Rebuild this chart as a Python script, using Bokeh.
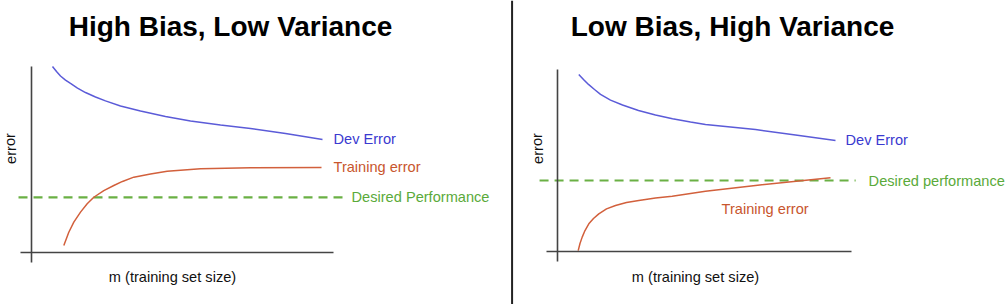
from bokeh.plotting import figure
from bokeh.layouts import row
from bokeh.models import Label, Span, Range1d, FixedTicker
from bokeh.embed import file_html
from bokeh.resources import INLINE

# ---------------- data (m = training set size, error) ----------------
# Left panel: High Bias, Low Variance
hb_dev_m = [6.95, 8.28, 9.60, 11.26, 12.91, 15.23, 17.88, 21.19, 24.50, 29.47, 36.09,
            44.37, 52.65, 62.58, 72.52, 84.11, 96.36]
hb_dev_err = [10.0, 9.73, 9.49, 9.27, 9.09, 8.84, 8.60, 8.36, 8.15, 7.88, 7.61,
              7.31, 7.07, 6.85, 6.67, 6.40, 6.08]
hb_train_m = [10.70, 12.35, 14.01, 16.23, 18.44, 20.63, 23.94, 27.25, 30.13, 33.87, 39.40,
              44.93, 55.96, 72.52, 96.03]
hb_train_err = [0.38, 1.09, 1.63, 2.17, 2.62, 2.97, 3.33, 3.60, 3.82, 4.05, 4.22,
                4.37, 4.50, 4.55, 4.57]
hb_desired_m = [-4.3, 103.0]
hb_desired_err = [2.96, 2.96]

# Right panel: Low Bias, High Variance
lb_dev_m = [7.24, 8.84, 10.54, 12.59, 14.63, 18.03, 22.11, 27.55, 33.33, 39.12, 45.24,
            50.34, 58.84, 67.35, 80.95, 94.56]
lb_dev_err = [9.73, 9.45, 9.18, 8.90, 8.63, 8.32, 8.05, 7.75, 7.50, 7.29, 7.12,
              6.98, 6.84, 6.70, 6.40, 6.10]
lb_train_m = [7.04, 7.65, 8.40, 9.35, 10.65, 12.24, 14.05, 16.67, 19.73, 23.47, 27.65,
              33.33, 39.01, 50.34, 67.35, 92.86]
lb_train_err = [0.05, 0.44, 0.79, 1.15, 1.52, 1.81, 2.07, 2.34, 2.53, 2.69, 2.80,
                2.94, 3.04, 3.31, 3.63, 4.05]
lb_desired_m = [-6.1, 101.4]
lb_desired_err = [3.90, 3.90]

titles = ["High Bias, Low Variance", "Low Bias, High Variance"]
desired_labels = ["Desired Performance", "Desired performance"]
x_label = "m (training set size)"
y_label = "error"

FONT = "Liberation Sans"
DEV_LINE, DEV_TEXT = "#5b5bd8", "#3a3ad0"
TR_LINE, TR_TEXT = "#d2603c", "#c8562e"
GR_LINE, GR_TEXT = "#6ab044", "#5aaa3a"
AX = "#444444"
LBL_SIZE = "14.6px"


def make_panel(width, xr, yr, xb, yb, title, title_x, des_text,
               dev_m, dev_e, tr_m, tr_e, des_m, des_e,
               dev_off, tr_off, des_off, tr_label_pos, xlab_x, ylab_x):
    p = figure(width=width, height=304, output_backend="svg", toolbar_location=None,
               x_range=Range1d(*xr), y_range=Range1d(*yr), min_border=0,
               outline_line_color=None, background_fill_color="white",
               border_fill_color="white")
    p.grid.visible = False
    for ax in (p.xaxis[0], p.yaxis[0]):
        ax.fixed_location = 0
        ax.ticker = FixedTicker(ticks=[])
        ax.major_tick_line_color = None
        ax.minor_tick_line_color = None
        ax.major_label_standoff = 0
        ax.major_tick_out = 0
        ax.major_tick_in = 0
        ax.axis_line_color = AX
        ax.axis_line_width = 1.6
    p.xaxis[0].bounds = xb
    p.yaxis[0].bounds = yb

    p.line(des_m, des_e, line_color=GR_LINE, line_width=2.2, line_dash="9 6")
    p.line(dev_m, dev_e, line_color=DEV_LINE, line_width=1.5)
    p.line(tr_m, tr_e, line_color=TR_LINE, line_width=1.5)

    p.add_layout(Label(x=dev_m[-1], y=dev_e[-1], x_offset=dev_off, text="Dev Error",
                       text_color=DEV_TEXT, text_font=FONT, text_font_size=LBL_SIZE,
                       text_baseline="middle"))
    if tr_label_pos is None:
        p.add_layout(Label(x=tr_m[-1], y=tr_e[-1], x_offset=tr_off, text="Training error",
                           text_color=TR_TEXT, text_font=FONT, text_font_size=LBL_SIZE,
                           text_baseline="middle"))
    else:
        p.add_layout(Label(x=tr_label_pos[0], y=tr_label_pos[1], text="Training error",
                           text_color=TR_TEXT, text_font=FONT, text_font_size=LBL_SIZE,
                           text_baseline="middle"))
    p.add_layout(Label(x=des_m[-1], y=des_e[-1], x_offset=des_off, text=des_text,
                       text_color=GR_TEXT, text_font=FONT, text_font_size=LBL_SIZE,
                       text_baseline="middle"))

    p.add_layout(Label(x=title_x, y=304 - 26, x_units="screen", y_units="screen",
                       text=title, text_font=FONT, text_font_style="bold",
                       text_font_size="28px", text_align="center",
                       text_baseline="alphabetic", text_color="black"))
    p.add_layout(Label(x=xlab_x, y=304 - 276, x_units="screen", y_units="screen",
                       text=x_label, text_font=FONT, text_font_size=LBL_SIZE,
                       text_align="center", text_baseline="middle", text_color="#111111"))
    p.add_layout(Label(x=ylab_x, y=304 - 148, x_units="screen", y_units="screen",
                       text=y_label, text_font=FONT, text_font_size=LBL_SIZE,
                       text_align="center", text_baseline="middle", angle=1.5708,
                       text_color="#111111"))
    return p


left = make_panel(510, (-10.265, 158.61), (-2.796, 13.548), (-3.64, 100.0), (-0.538, 10.0),
                  titles[0], 230, desired_labels[0],
                  hb_dev_m, hb_dev_err, hb_train_m, hb_train_err, hb_desired_m, hb_desired_err,
                  11, 12, 9, None, 172, 10)

right = make_panel(495, (-15.986, 152.38), (-2.912, 13.791), (-3.74, 100.0), (-0.549, 10.0),
                   titles[1], 732 - 510, desired_labels[1],
                   lb_dev_m, lb_dev_err, lb_train_m, lb_train_err, lb_desired_m, lb_desired_err,
                   10, 0, 13, (55.8, 2.36), 695 - 510, 537 - 510)
right.add_layout(Span(location=-15.45, dimension="height", line_color="#222222",
                      line_width=2))

layout = row(left, right, spacing=0)
open("out.html", "w").write(file_html(layout, INLINE))
